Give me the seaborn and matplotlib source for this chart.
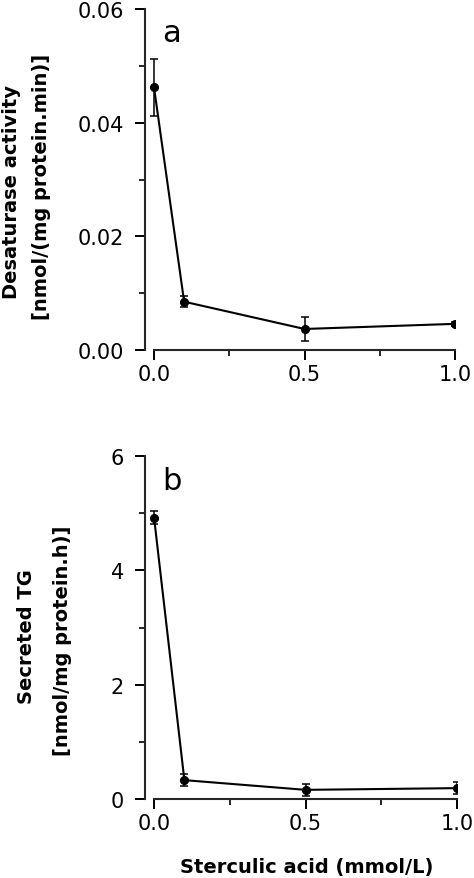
import numpy as np
import pandas as pd
import matplotlib
matplotlib.use("Agg")
from matplotlib import pyplot as plt
from matplotlib.ticker import MultipleLocator, FormatStrFormatter
import seaborn as sns

# sterculic acid concentration (mmol/L)
conc = [0.0, 0.1, 0.5, 1.0]

# panel a: desaturase activity, nmol/(mg protein.min)
desat = [0.0462, 0.0085, 0.0037, 0.0046]
desat_err = [0.0050, 0.0010, 0.0021, 0.0003]

# panel b: secreted TG, nmol/(mg protein.h)
tg = [4.92, 0.33, 0.16, 0.19]
tg_err = [0.11, 0.10, 0.10, 0.10]

sns.set_theme(style="ticks")
plt.rcParams['font.family'] = ['DejaVu Sans']
plt.rcParams['text.color'] = 'black'
plt.rcParams['axes.linewidth'] = 1.5
for k in ['xtick.major.width', 'ytick.major.width',
          'xtick.minor.width', 'ytick.minor.width']:
    plt.rcParams[k] = 1.4
plt.rcParams['xtick.major.size'] = 7
plt.rcParams['ytick.major.size'] = 7
plt.rcParams['xtick.minor.size'] = 4
plt.rcParams['ytick.minor.size'] = 4

fig = plt.figure(figsize=(4.74, 8.79), dpi=100)
ax_a = fig.add_axes([145 / 474, 1 - 351 / 879, 310 / 474, 341 / 879])
ax_b = fig.add_axes([145 / 474, 1 - 800 / 879, 312 / 474, 343 / 879])


def panel(ax, y, err, ymax, ystep, fmt, letter):
    df = pd.DataFrame({'x': conc, 'y': y})
    sns.lineplot(data=df, x='x', y='y', ax=ax, color='black', lw=1.5,
                 marker='o', markersize=5.8, markeredgecolor='black')
    ax.errorbar(conc, y, yerr=err, fmt='none', ecolor='black',
                elinewidth=1.1, capsize=2.8, capthick=1.1)
    ax.set_xlim(-0.03, 1.0)
    ax.set_ylim(0, ymax)
    ax.xaxis.set_major_locator(MultipleLocator(0.5))
    ax.xaxis.set_minor_locator(MultipleLocator(0.25))
    ax.yaxis.set_major_locator(MultipleLocator(ystep))
    ax.yaxis.set_minor_locator(MultipleLocator(ystep / 2))
    ax.xaxis.set_major_formatter(FormatStrFormatter('%.1f'))
    ax.yaxis.set_major_formatter(FormatStrFormatter(fmt))
    sns.despine(ax=ax)
    ax.spines['bottom'].set_bounds(0, 1)
    ax.spines['left'].set_bounds(0, ymax)
    ax.tick_params(labelsize=15, colors='black')
    ax.tick_params(axis='x', pad=3)
    ax.tick_params(axis='y', pad=8)
    ax.set_xlabel('')
    ax.set_ylabel('')
    ax.text(0.085, 0.93, letter, transform=ax.transAxes, fontsize=22,
            ha='center', va='center', color='black')


panel(ax_a, desat, desat_err, 0.06, 0.02, '%.2f', 'a')
panel(ax_b, tg, tg_err, 6, 2, '%d', 'b')

# two-line y labels
lab = dict(rotation=90, ha='center', va='center', fontsize=14,
           fontweight='bold', color='black')
fig.text(12 / 474, 1 - 192 / 879, 'Desaturase activity', **lab)
fig.text(42 / 474, 1 - 187 / 879, '[nmol/(mg protein.min)]', **lab)
fig.text(27 / 474, 1 - 637 / 879, 'Secreted TG', **lab)
fig.text(63 / 474, 1 - 641 / 879, '[nmol/mg protein.h)]', **lab)
fig.text(307 / 474, 1 - 868 / 879, 'Sterculic acid (mmol/L)',
         ha='center', va='center', fontsize=14, fontweight='bold',
         color='black')

fig.savefig('out.png', dpi=100)
